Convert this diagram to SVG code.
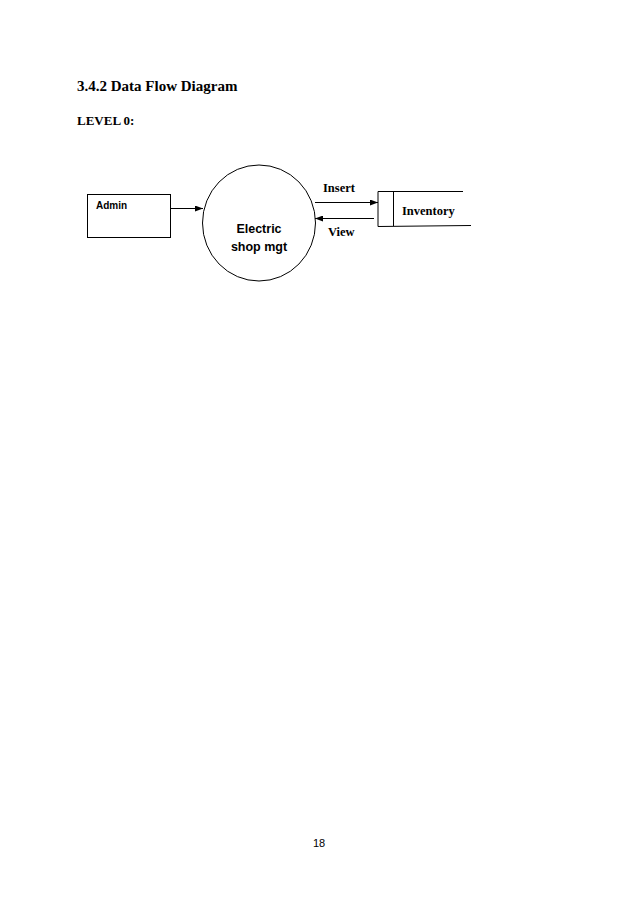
<svg xmlns="http://www.w3.org/2000/svg" width="638" height="903" viewBox="0 0 638 903">
<style>
.serif{font-family:"Liberation Serif","Times New Roman",serif;font-weight:bold;fill:#000}
.sans{font-family:"Liberation Sans",Arial,sans-serif;fill:#000}
.ln{stroke:#000;stroke-width:1;fill:none}
</style>
<defs>
<marker id="ah" viewBox="0 0 8 6" refX="8" refY="3" markerWidth="8" markerHeight="6" markerUnits="userSpaceOnUse" orient="auto">
<path d="M0,0 L8,3 L0,6 z" fill="#000"/>
</marker>
</defs>
<rect width="638" height="903" fill="#fff"/>
<text class="serif" x="77" y="91" font-size="15">3.4.2 Data Flow Diagram</text>
<text class="serif" x="77" y="125" font-size="13">LEVEL 0:</text>
<g id="admin">
<rect class="ln" x="87.5" y="194.5" width="83" height="43"/>
<text class="sans" x="96" y="209" font-size="10" font-weight="bold">Admin</text>
</g>
<g id="process">
<ellipse class="ln" cx="259" cy="223" rx="56.5" ry="58"/>
<text class="sans" x="259" y="232.5" font-size="12.5" font-weight="bold" text-anchor="middle">Electric</text>
<text class="sans" x="259" y="251" font-size="12.5" font-weight="bold" text-anchor="middle">shop mgt</text>
</g>
<g id="inventory">
<path class="ln" d="M463,191.5 L378,191.5 L378,226.5 L471,225.5 M393.5,191.5 L393.5,226"/>
<text class="serif" x="402" y="215" font-size="12.5">Inventory</text>
</g>
<g id="connectors">
<line class="ln" x1="171" y1="208.5" x2="203" y2="208.5" marker-end="url(#ah)"/>
<line class="ln" x1="315" y1="202.5" x2="378" y2="202.5" marker-end="url(#ah)"/>
<line class="ln" x1="374" y1="218.5" x2="315" y2="218.5" marker-end="url(#ah)"/>
<text class="serif" x="323" y="192" font-size="12.5">Insert</text>
<text class="serif" x="328" y="236" font-size="12.5">View</text>
</g>
<text class="sans" x="319" y="847" font-size="11" text-anchor="middle">18</text>
</svg>
